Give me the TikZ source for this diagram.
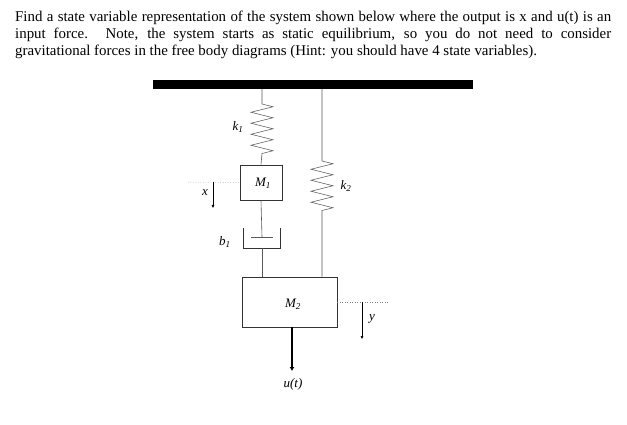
\documentclass[tikz,border=0pt]{standalone}
\usepackage{fontspec}
\setmainfont{Liberation Serif}
\usetikzlibrary{arrows.meta}
\begin{document}
\begin{tikzpicture}[x=1pt,y=-1pt,
  wire/.style={draw=gray!70!black,line width=0.6pt},
  box/.style={draw=black!80,line width=0.8pt},
  dots/.style={draw=gray,dotted,line width=0.5pt},
  lab/.style={font=\itshape\fontsize{13}{15}\selectfont,inner sep=0pt}]
\useasboundingbox (0,0) rectangle (627,425);
\node[anchor=north west,text width=596pt,align=justify,inner sep=0pt,font=\fontsize{14.9}{17}\selectfont] (txt) at (15,11)
{Find a state variable representation of the system shown below where the output is x and u(t) is an\linebreak input force. Note, the system starts as static equilibrium, so you do not need to consider\linebreak gravitational forces in the free body diagrams (Hint: you should have 4 state variables).};
\fill (153,80) rectangle (473,89);
\coordinate (k1a) at (262,89); \coordinate (k1b) at (262,104); \coordinate (k1c) at (262,153.5);
\node[box,minimum width=42pt,minimum height=35pt,inner sep=0pt] (M1) at (261,182.5) {};
\node[lab] at (263,183) {M\textsubscript{1}};
\draw[wire] (k1a)--(k1b) -- ++(11,2.75) -- ++(-22,5.5) -- ++(22,5.5) -- ++(-22,5.5) -- ++(22,5.5) -- ++(-22,5.5) -- ++(22,5.5) -- ++(-22,5.5) -- ++(22,5.5) -- (k1c) -- (M1.north);
\node[lab] at (238,127) {k\textsubscript{1}};
\coordinate (k2a) at (322,89); \coordinate (k2b) at (322,161); \coordinate (k2c) at (322,210.5);
\node[box,minimum width=95pt,minimum height=50pt,inner sep=0pt] (M2) at (289.5,302) {};
\node[lab] at (293,304) {M\textsubscript{2}};
\draw[wire] (k2a)--(k2b) -- ++(11,2.75) -- ++(-22,5.5) -- ++(22,5.5) -- ++(-22,5.5) -- ++(22,5.5) -- ++(-22,5.5) -- ++(22,5.5) -- ++(-22,5.5) -- ++(22,5.5) -- (k2c) -- (k2c|-M2.north);
\node[lab] at (346,186) {k\textsubscript{2}};
% damper
\coordinate (d1) at (262,237); \coordinate (d2) at (262,248);
\draw[wire] (M1.south)--(d1);
\draw[wire] (251,237)--(273,237);
\draw[box,line width=0.6pt] (243,228)--(243,248)--(280,248)--(280,228);
\draw[wire] (d2)--(d2|-M2.north);
\node[lab] at (225,242) {b\textsubscript{1}};
% x
\coordinate (xa) at (188,182); \coordinate (xb) at (213,182); \coordinate (xc) at (213,208);
\draw[dots] (xa)--(M1.west);
\draw[line width=0.5pt,-{Latex[length=3pt,width=3pt]}] (xb)--(xc);
\node[lab] at (205,193) {x};
% y
\coordinate (ya) at (388,302); \coordinate (yb) at (362,302); \coordinate (yc) at (362,339);
\draw[dots] (M2.east|-ya)--(ya);
\draw[line width=0.5pt,-{Latex[length=3pt,width=3pt]}] (yb)--(yc);
\node[lab] at (372,319) {y};
% u
\coordinate (u) at (292,371);
\draw[line width=2.5pt,-{Latex[length=4pt,width=5pt]}] (292,327)--(u);
\node[lab] at (293,384) {u(t)};
\end{tikzpicture}
\end{document}
